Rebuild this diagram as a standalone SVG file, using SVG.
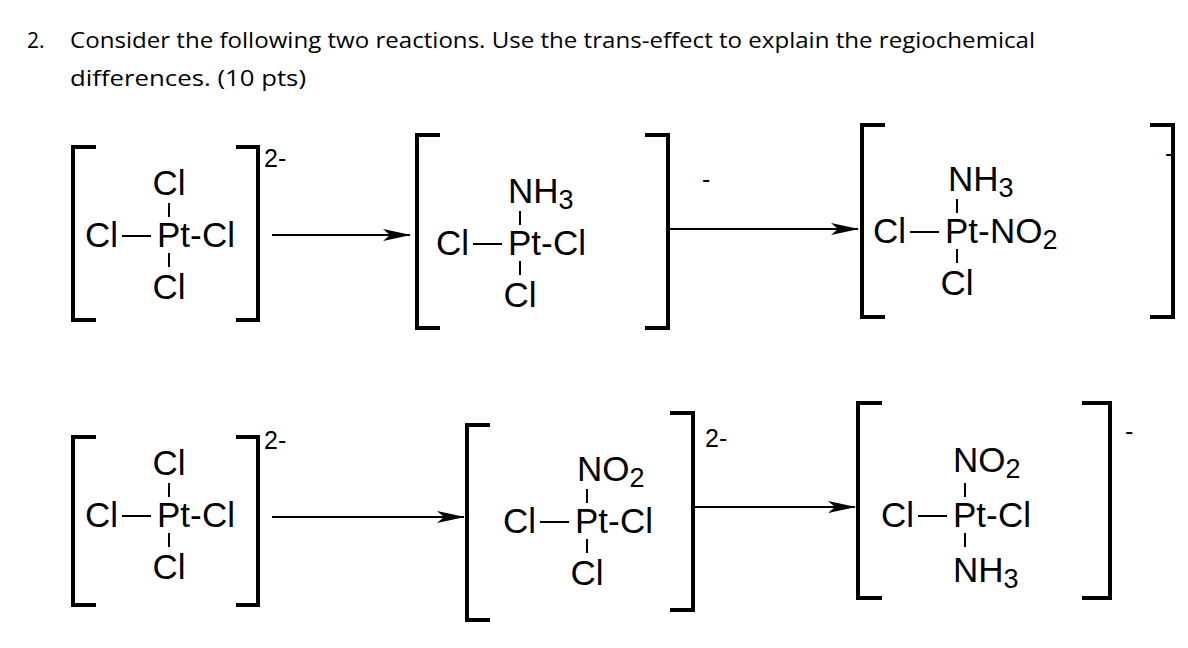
<svg xmlns="http://www.w3.org/2000/svg" width="1188" height="648" viewBox="0 0 1188 648">
<style>
.t{font-family:"Liberation Sans",Arial,sans-serif;font-size:35px;fill:#000}
.h{font-family:"Open Sans","Liberation Sans",sans-serif;font-size:21px;fill:#000}
.c{font-family:"Liberation Sans",Arial,sans-serif;font-size:25px;fill:#000}
.b{stroke:#000;stroke-width:2;fill:none}
.br{stroke:#000;stroke-width:4;fill:none}
.ar{stroke:#000;stroke-width:2;fill:none}
</style>
<defs>
<marker id="ah" markerWidth="28" markerHeight="14" refX="27" refY="7" orient="auto" markerUnits="userSpaceOnUse">
<path d="M0,1 L28,7 L0,13 L7,7 Z" fill="#000"/>
</marker>
<g id="core">
<text class="t" x="-72" y="0">Cl</text>
<line class="b" x1="-35" y1="-11" x2="-6" y2="-11"/>
<text class="t" x="0" y="0">Pt-</text>
<line class="b" x1="12" y1="-44" x2="12" y2="-30"/>
<line class="b" x1="12" y1="6" x2="12" y2="20"/>
</g>
</defs>
<text class="h" x="27" y="48">2.</text>
<text class="h" x="70" y="48" textLength="965" lengthAdjust="spacingAndGlyphs">Consider the following two reactions.  Use the trans-effect to explain the regiochemical</text>
<text class="h" x="70" y="86" textLength="236" lengthAdjust="spacingAndGlyphs">differences.  (10 pts)</text>

<g id="r1c1" transform="translate(157,247)">
<use href="#core"/>
<text class="t" x="45" y="0">Cl</text>
<text class="t" x="12" y="-52" text-anchor="middle">Cl</text>
<text class="t" x="12" y="52" text-anchor="middle">Cl</text>
</g>
<path class="br" d="M96,147 H73 V320 H96 M236,147 H258 V320 H236"/>
<text class="c" x="264" y="167">2-</text>

<g id="r1c2" transform="translate(508,255)">
<use href="#core"/>
<text class="t" x="45" y="0">Cl</text>
<text class="t" x="0" y="-52">NH<tspan font-size="27" dy="6">3</tspan></text>
<text class="t" x="12" y="52" text-anchor="middle">Cl</text>
</g>
<path class="br" d="M440,135 H417 V328 H440 M645,135 H668 V328 H645"/>
<text class="c" x="702" y="188">-</text>

<g id="r1c3" transform="translate(945,243)">
<use href="#core"/>
<text class="t" x="45" y="0">NO<tspan font-size="27" dy="6">2</tspan></text>
<text class="t" x="3" y="-52">NH<tspan font-size="27" dy="6">3</tspan></text>
<text class="t" x="12" y="52" text-anchor="middle">Cl</text>
</g>
<path class="br" d="M885,125 H862 V317 H885 M1150,125 H1173 V317 H1150"/>
<text class="c" x="1165" y="162">-</text>

<g id="r2c1" transform="translate(157,527)">
<use href="#core"/>
<text class="t" x="45" y="0">Cl</text>
<text class="t" x="12" y="-52" text-anchor="middle">Cl</text>
<text class="t" x="12" y="52" text-anchor="middle">Cl</text>
</g>
<path class="br" d="M96,437 H73 V605 H96 M236,437 H258 V605 H236"/>
<text class="c" x="264" y="449">2-</text>

<g id="r2c2" transform="translate(575,533)">
<use href="#core"/>
<text class="t" x="45" y="0">Cl</text>
<text class="t" x="2" y="-52">NO<tspan font-size="27" dy="6">2</tspan></text>
<text class="t" x="12" y="52" text-anchor="middle">Cl</text>
</g>
<path class="br" d="M490,425 H467 V620 H490 M670,413 H693 V610 H670"/>
<text class="c" x="705" y="447">2-</text>

<g id="r2c3" transform="translate(953,527)">
<use href="#core"/>
<text class="t" x="45" y="0">Cl</text>
<text class="t" x="0" y="-55">NO<tspan font-size="27" dy="6">2</tspan></text>
<text class="t" x="0" y="55">NH<tspan font-size="27" dy="6">3</tspan></text>
</g>
<path class="br" d="M882,403 H858 V598 H882 M1082,403 H1110 V598 H1082"/>
<text class="c" x="1125" y="440">-</text>

<g id="connectors">
<line class="ar" x1="272" y1="235" x2="410" y2="235" marker-end="url(#ah)"/>
<line class="ar" x1="670" y1="229" x2="858" y2="229" marker-end="url(#ah)"/>
<line class="ar" x1="272" y1="517" x2="464" y2="517" marker-end="url(#ah)"/>
<line class="ar" x1="694" y1="507" x2="855" y2="507" marker-end="url(#ah)"/>
</g>
</svg>
